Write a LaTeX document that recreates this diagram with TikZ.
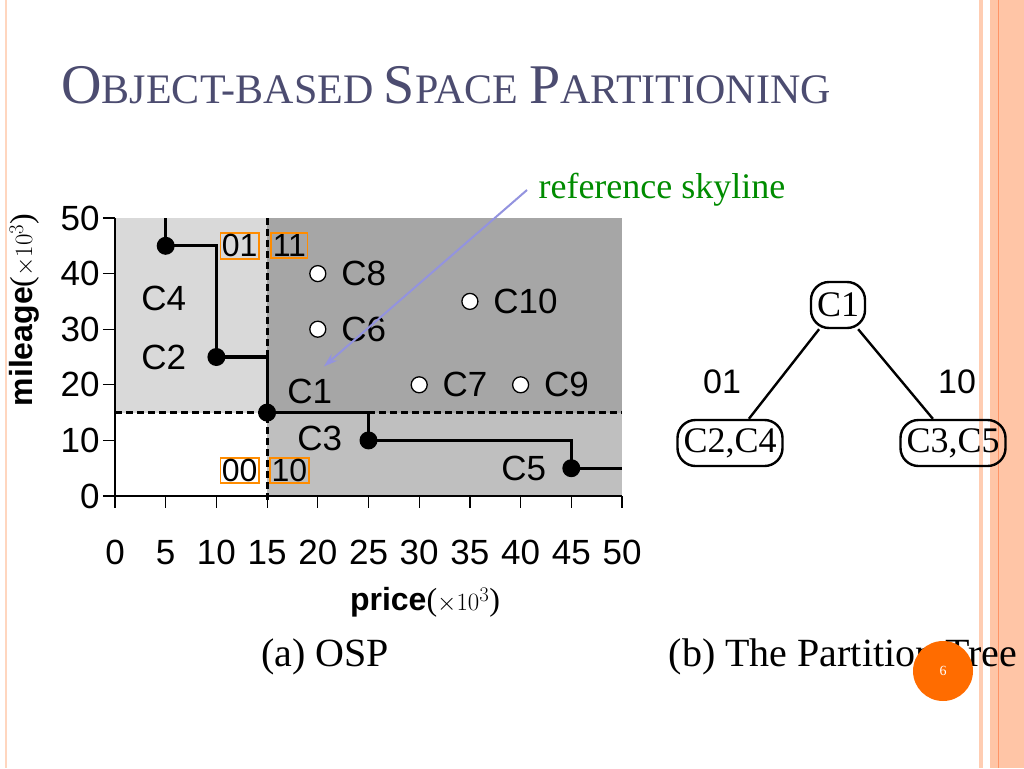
\documentclass[tikz,border=0pt]{standalone}
\usepackage{fontspec}
\usetikzlibrary{arrows.meta}
\setmainfont{Liberation Serif}
\newfontfamily\arialf{Liberation Sans}
\newcommand{\bigS}[1]{{\fontsize{56}{56}\selectfont #1}}
\begin{document}
\begin{tikzpicture}[x=1pt,y=-1pt,
  lab/.style={font=\arialf\fontsize{35}{35}\selectfont, inner sep=0},
  tick/.style={font=\arialf\fontsize{35}{35}\selectfont, inner sep=0},
  code/.style={draw=orange!90!yellow, line width=1.8pt, inner sep=1.5pt, font=\arialf\fontsize{32}{32}\selectfont},
  sky/.style={line width=3.2pt},
  fdot/.style={circle, fill=black, minimum size=18pt, inner sep=0},
  odot/.style={circle, draw=black, fill=white, line width=1.3pt, minimum size=16pt, inner sep=0},
  tnode/.style={draw, line width=2.4pt, rounded corners=18pt, minimum height=46pt, inner sep=6pt, font=\fontsize{36}{36}\selectfont},
  ]
\useasboundingbox (0,0) rectangle (1024,768);
\fill[white] (0,0) rectangle (1024,768);
% borders
\fill[red!30!orange!25] (5,0) rectangle (7,768);
\fill[red!30!orange!30] (979,0) rectangle (983,768);
\fill[red!30!orange!35] (990,0) rectangle (1024,768);
\draw[red!40!orange!60, line width=0.6pt] (998,0) -- (998,768);
% title
\node[font=\fontsize{42}{42}\selectfont, text=blue!20!black!70, anchor=west] (title) at (58,85) {\bigS{O}BJECT-BASED \bigS{S}PACE \bigS{P}ARTITIONING};
% chart regions
\begin{scope}[shift={(115,496)}, x=10.14pt, y=5.56pt]
\fill[black!15] (0,15) rectangle (15,50);
\fill[black!25] (15,0) rectangle (50,15);
\fill[black!35] (15,15) rectangle (50,50);
\draw[line width=1.2pt] (0,0) -- (0,50);
\draw[line width=1.2pt] (0,0) -- (50,0);
\foreach \v in {0,10,...,50} {\draw[line width=1.2pt] (-1.2,\v) -- (0,\v); \node[tick, anchor=east] at (-1.5,\v) {\v};}
\foreach \v in {0,5,...,50} {\draw[line width=1.2pt] (\v,0) -- (\v,-2.2);}
\foreach \v in {0,5,...,50} {\node[tick] at (\v,-10.2) {\v};}
\draw[line width=3.2pt, dash pattern=on 7pt off 4pt] (15,50) -- (15,-1);
\draw[line width=3.2pt, dash pattern=on 7pt off 4pt] (0,15) -- (50,15);
\coordinate (s0) at (5,50);
\coordinate (s1) at (50,5);
\node[fdot] (c4) at (5,45) {};
\node[fdot] (c2) at (10,25) {};
\node[fdot] (c1) at (15,15) {};
\node[fdot] (c3) at (25,10) {};
\node[fdot] (c5) at (45,5) {};
\draw[sky] (s0) -- (c4.center) -| (c2.center) -| (c1.center) -| (c3.center) -| (c5.center) -- (s1);
\node[odot] (c8) at (20,40) {};
\node[odot] (c6) at (20,30) {};
\node[odot] (c10) at (35,35) {};
\node[odot] (c7) at (30,20) {};
\node[odot] (c9) at (40,20) {};
\node[lab, anchor=west] (l8) at (22.3,40) {C8};
\node[lab, anchor=west] (l6) at (22.3,30) {C6};
\node[lab, anchor=west] (l10) at (37.3,35) {C10};
\node[lab, anchor=west] (l7) at (32.3,20) {C7};
\node[lab, anchor=west] (l9) at (42.3,20) {C9};
\node[lab] (l4) at (4.8,35.5) {C4};
\node[lab] (l2) at (4.8,25) {C2};
\node[lab] (l1) at (19.2,18.8) {C1};
\node[lab] (l3) at (20.2,10.4) {C3};
\node[lab] (l5) at (40.3,5) {C5};
\node[code] (b01) at (12.3,45) {01};
\node[code] (b11) at (17.2,45) {11};
\node[code] (b00) at (12.3,4.6) {00};
\node[code] (b10) at (17.2,4.6) {10};
\coordinate (ar) at (20.6,23.3);
\end{scope}
\node[font=\arialf\bfseries\fontsize{32}{32}\selectfont, inner sep=0] (px) at (425,602) {price\textmd{\rmfamily($\times10^3$)}};
\node[font=\arialf\bfseries\fontsize{32}{32}\selectfont, inner sep=0, rotate=90] (my) at (24,310) {mileage\textmd{\rmfamily($\times10^3$)}};
\node[font=\fontsize{40}{40}\selectfont] (capa) at (325,657) {(a) OSP};
\node[font=\fontsize{40}{40}\selectfont] (capb) at (843,657) {(b) The Partition Tree};
% reference arrow
\node[font=\fontsize{36}{36}\selectfont, text=green!55!black, anchor=west] (ref) at (535,190) {reference skyline};
\coordinate (a0) at (527,190);
\draw[-{Stealth[length=14pt,width=9pt]}, blue!40!white!75!gray, line width=2pt] (a0) -- (ar);
% tree
\node[tnode] (t1) at (838,305) {C1};
\node[tnode] (t2) at (730,443) {C2,C4};
\node[tnode] (t3) at (953,443) {C3,C5};
\draw[line width=2.4pt] (t1) -- (t2);
\draw[line width=2.4pt] (t1) -- (t3);
\node[font=\arialf\fontsize{34}{34}\selectfont] (e1) at (722,382) {01};
\node[font=\arialf\fontsize{34}{34}\selectfont] (e2) at (957,382) {10};
% page number
\node[circle, fill=orange!85!red, minimum size=60pt, text=white, font=\fontsize{14}{14}\selectfont] (pg) at (943,671) {6};
\end{tikzpicture}
\end{document}
